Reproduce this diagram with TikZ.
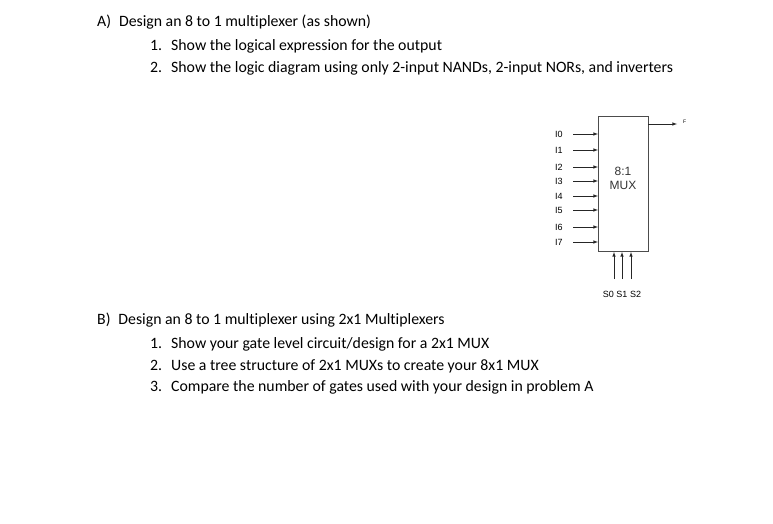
\documentclass[tikz,border=0pt]{standalone}
\usepackage{fontspec}
\setmainfont[Ligatures=NoCommon]{Carlito}
\newfontfamily\arialf{Liberation Sans}
\begin{document}
\begin{tikzpicture}[x=1pt,y=-1pt,
  txt/.style={anchor=west,inner sep=0pt,font=\fontsize{15.8}{18}\selectfont},
  lbl/.style={inner sep=0pt,font=\arialf\fontsize{9}{10}\selectfont},
  arr/.style={-latex,line width=0.6pt,black!85}]
\useasboundingbox (0,0) rectangle (773,524);
\node[txt] (a) at (97,22) {A)\enspace Design an 8 to 1 multiplexer (as shown)};
\node[txt] (a1) at (150,46) {1.\hspace{9pt}Show the logical expression for the output};
\node[txt] (a2) at (150,68) {2.\hspace{9pt}Show the logic diagram using only 2-input NANDs, 2-input NORs, and inverters};
\node[txt] (b) at (97,320) {B)\enspace Design an 8 to 1 multiplexer using 2x1 Multiplexers};
\node[txt] (b1) at (150,344) {1.\hspace{9pt}Show your gate level circuit/design for a 2x1 MUX};
\node[txt] (b2) at (150,366) {2.\hspace{9pt}Use a tree structure of 2x1 MUXs to create your 8x1 MUX};
\node[txt] (b3) at (150,387) {3.\hspace{9pt}Compare the number of gates used with your design in problem A};
\node[draw=black!70,line width=0.7pt,minimum width=50pt,minimum height=135pt,inner sep=0pt,anchor=north west] (mux) at (598,116) {};
\node[lbl,font=\arialf\fontsize{12}{14}\selectfont,align=center,black!80] (ml) at (623,178) {8:1\\MUX};
\foreach \i/\y in {0/134,1/150,2/167,3/181,4/196,5/210,6/227,7/242}{
  \node[lbl,anchor=west] (i\i) at (555,\y) {I\i};
  \coordinate (s\i) at (573,\y);
  \draw[arr] (s\i) -- (598,\y);
}
\coordinate (fo) at (648,124);
\coordinate (fe) at (677,124);
\draw[arr] (fo) -- (fe);
\node[lbl,font=\arialf\fontsize{5}{6}\selectfont,anchor=west] (F) at (683,122) {F};
\foreach \x/\n in {614/0,622/1,631/2}{
  \coordinate (c\n) at (\x,279);
  \draw[arr] (c\n) -- (\x,252);
}
\node[lbl] (sl) at (622,294) {S0 S1 S2};
\end{tikzpicture}
\end{document}
